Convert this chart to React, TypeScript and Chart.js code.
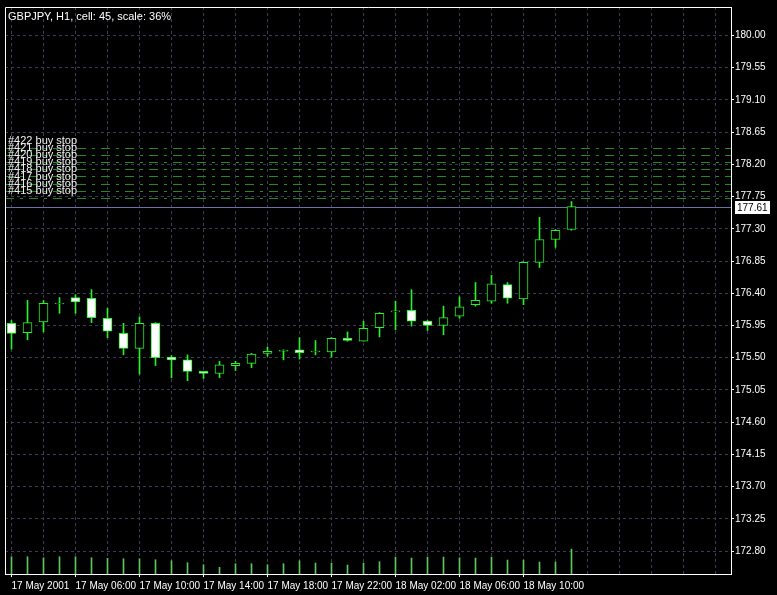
import React, { useEffect, useRef } from 'react';
import { Chart, registerables } from 'chart.js';

Chart.register(...registerables);

const chartTitle = 'GBPJPY, H1, cell: 45, scale: 36%';

// hourly bars 17 May 02:00 .. 18 May 13:00
const openP = [175.98,175.85,176.00,176.25,176.34,176.33,176.05,175.84,175.63,175.98,175.51,175.47,175.31,175.28,175.39,175.42,175.56,175.59,175.61,175.58,175.58,175.77,175.73,175.92,176.14,176.16,176.01,175.95,176.08,176.24,176.29,176.52,176.32,176.83,177.15,177.29];
const highP = [176.02,176.30,176.30,176.34,176.38,176.45,176.19,175.98,176.07,175.99,175.53,175.54,175.31,175.45,175.45,175.56,175.65,175.61,175.78,175.74,175.78,175.86,176.01,176.13,176.29,176.45,176.02,176.22,176.35,176.55,176.65,176.55,176.84,177.46,177.29,177.68];
const lowP = [175.62,175.75,175.86,176.12,176.12,175.99,175.78,175.54,175.27,175.39,175.22,175.18,175.21,175.22,175.32,175.36,175.52,175.47,175.48,175.54,175.51,175.73,175.73,175.79,175.89,175.94,175.88,175.82,176.05,176.22,176.26,176.26,176.24,176.76,177.04,177.28];
const closeP = [175.84,175.99,176.26,176.26,176.28,176.06,175.87,175.63,175.98,175.50,175.47,175.31,175.28,175.40,175.42,175.55,175.59,175.59,175.57,175.58,175.77,175.74,175.91,176.12,176.14,176.01,175.95,176.06,176.21,176.30,176.53,176.33,176.83,177.15,177.28,177.61];
const volumes = [173,173,163,173,173,163,157,153,153,143,133,113,93,67,103,103,93,103,133,110,110,90,110,123,170,160,170,170,163,160,170,140,140,120,120,250];

const priceTicks = [172.80,173.25,173.70,174.15,174.60,175.05,175.50,175.95,176.40,176.85,177.30,177.75,178.20,178.65,179.10,179.55,180.00];
const gridBarIdx = [0,2,4,6,8,10,12,14,16,18,20,22,24,26,28,30,32,34,36,38,40,42,44];
const timeTickIdx = [0,4,8,12,16,20,24,28,32];
const timeTickLabels = ['17 May 2001','17 May 06:00','17 May 10:00','17 May 14:00','17 May 18:00','17 May 22:00','18 May 02:00','18 May 06:00','18 May 10:00'];

const orderNames = ['#415 buy stop','#416 buy stop','#417 buy stop','#418 buy stop','#419 buy stop','#420 buy stop','#421 buy stop','#422 buy stop'];
const orderPrices = [177.73,177.83,177.93,178.03,178.13,178.23,178.33,178.43];

const GREEN = '#2af02a';
const VOL = '#5cc85c';
const GRID = '#3c3c5a';
const ORDER = '#238a23';
const PRICE_LINE = '#7070a0';
const FONT = '"Liberation Sans", Arial, sans-serif';

const overlay = {
  id: 'overlay',
  beforeDatasetsDraw(chart: any) {
    const { ctx, chartArea: a, scales } = chart;
    const y = scales.y;
    ctx.save();
    ctx.lineWidth = 1;
    ctx.strokeStyle = ORDER;
    ctx.setLineDash([9, 6, 3, 6]);
    orderPrices.forEach((p) => {
      const py = Math.round(y.getPixelForValue(p)) + 0.5;
      ctx.beginPath();
      ctx.moveTo(a.left, py);
      ctx.lineTo(a.right, py);
      ctx.stroke();
    });
    ctx.setLineDash([]);
    const last = closeP[closeP.length - 1];
    const lp = Math.round(y.getPixelForValue(last)) + 0.5;
    ctx.strokeStyle = PRICE_LINE;
    ctx.beginPath();
    ctx.moveTo(a.left, lp);
    ctx.lineTo(a.right, lp);
    ctx.stroke();
    ctx.restore();
  },
  afterDraw(chart: any) {
    const { ctx, chartArea: a, scales } = chart;
    const y = scales.y;
    ctx.save();
    ctx.strokeStyle = '#ffffff';
    ctx.lineWidth = 1;
    ctx.beginPath();
    ctx.moveTo(a.left + 0.5, a.bottom);
    ctx.lineTo(a.left + 0.5, a.top + 0.5);
    ctx.lineTo(a.right, a.top + 0.5);
    ctx.stroke();
    ctx.fillStyle = '#ffffff';
    ctx.font = '11px ' + FONT;
    ctx.textBaseline = 'alphabetic';
    ctx.textAlign = 'left';
    ctx.fillText(chartTitle, 8, 20);
    ctx.fillStyle = '#f0f0f0';
    orderPrices.forEach((p, i) => {
      const py = Math.round(y.getPixelForValue(p));
      ctx.fillText(orderNames[i], 8, py - 4);
    });
    const last = closeP[closeP.length - 1];
    const lp = Math.round(y.getPixelForValue(last));
    ctx.fillStyle = '#ffffff';
    ctx.fillRect(a.right + 4, lp - 6, 35, 13);
    ctx.fillStyle = '#000000';
    ctx.font = '10px ' + FONT;
    ctx.textBaseline = 'middle';
    ctx.fillText(last.toFixed(2), a.right + 6, lp + 1);
    ctx.restore();
  },
};

export default function App() {
  const ref = useRef<HTMLCanvasElement | null>(null);

  useEffect(() => {
    if (!ref.current) return;
    const idx = openP.map((_, i) => i);
    const chart = new Chart(ref.current, {
      type: 'bar',
      data: {
        datasets: [
          {
            label: 'wicks',
            data: idx.map((i) => ({ x: i, y: [lowP[i], highP[i]] })) as any,
            backgroundColor: GREEN,
            borderWidth: 0,
            barThickness: 1,
            grouped: false,
            order: 3,
            yAxisID: 'y',
          },
          {
            label: 'bodies',
            data: idx.map((i) => ({ x: i, y: [openP[i], closeP[i]] })) as any,
            backgroundColor: idx.map((i) => (closeP[i] >= openP[i] ? '#000000' : '#ffffff')),
            borderColor: GREEN,
            borderWidth: 1,
            borderSkipped: false,
            barThickness: 9,
            minBarLength: 1,
            grouped: false,
            order: 2,
            yAxisID: 'y',
          },
          {
            label: 'volume',
            data: idx.map((i) => ({ x: i, y: volumes[i] })) as any,
            backgroundColor: VOL,
            borderWidth: 0,
            barThickness: 1,
            grouped: false,
            order: 1,
            yAxisID: 'yv',
          },
        ],
      },
      options: {
        animation: false,
        responsive: false,
        devicePixelRatio: 1,
        events: [],
        layout: { padding: { left: 5, top: 5, right: 0, bottom: 0 } },
        plugins: { legend: { display: false }, tooltip: { enabled: false } },
        scales: {
          x: {
            type: 'linear',
            position: 'bottom',
            min: -0.40625,
            max: 44.96875,
            offset: false,
            afterBuildTicks: (s: any) => {
              s.ticks = gridBarIdx.map((v) => ({ value: v }));
            },
            afterFit: (s: any) => {
              s.height = 21;
            },
            ticks: {
              autoSkip: false,
              maxRotation: 0,
              minRotation: 0,
              align: 'start',
              padding: 3,
              color: '#ffffff',
              font: { family: FONT, size: 10 },
              callback: (v: any) => {
                const k = timeTickIdx.indexOf(Number(v));
                return k >= 0 ? timeTickLabels[k] : '';
              },
            },
            grid: {
              offset: false,
              color: GRID,
              lineWidth: 1,
              tickLength: 3,
              tickBorderDash: [],
              tickColor: (c: any) =>
                c.tick && timeTickIdx.indexOf(c.tick.value) >= 0 ? '#ffffff' : 'rgba(0,0,0,0)',
            },
            border: { display: true, color: '#ffffff', width: 1, dash: [3, 3] },
          },
          y: {
            type: 'linear',
            position: 'right',
            min: 172.48,
            max: 180.3965,
            afterBuildTicks: (s: any) => {
              s.ticks = priceTicks.map((v) => ({ value: v }));
            },
            afterFit: (s: any) => {
              s.width = 46;
            },
            ticks: {
              autoSkip: false,
              padding: 1,
              color: '#ffffff',
              font: { family: FONT, size: 10 },
              callback: (v: any) => Number(v).toFixed(2),
            },
            grid: {
              color: GRID,
              lineWidth: 1,
              tickLength: 3,
              tickColor: '#ffffff',
              tickBorderDash: [],
            },
            border: { display: true, color: '#ffffff', width: 1, dash: [3, 3] },
          },
          yv: {
            type: 'linear',
            display: false,
            min: 0,
            max: 5690,
          },
        },
      } as any,
      plugins: [overlay],
    });
    return () => chart.destroy();
  }, []);

  return (
    <div style={{ position: 'absolute', left: 0, top: 0, width: 777, height: 595, background: '#000' }}>
      <canvas ref={ref} width={777} height={595} style={{ display: 'block', width: 777, height: 595 }} />
    </div>
  );
}
